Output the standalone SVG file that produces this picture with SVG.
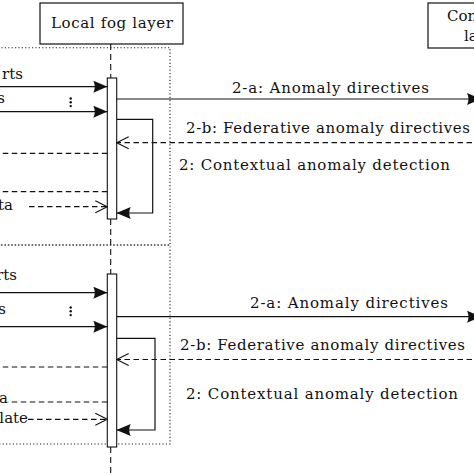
<svg xmlns="http://www.w3.org/2000/svg" width="474" height="474" viewBox="0 0 474 474">
<style>
.box{fill:#fff;stroke:#111;stroke-width:1.2}
.act{fill:#fff;stroke:#111;stroke-width:1.1}
.frame{fill:none;stroke:#222;stroke-width:1.1;stroke-dasharray:1.2 2.2}
.life{fill:none;stroke:#111;stroke-width:1.1;stroke-dasharray:6 4}
.solid{fill:none;stroke:#111;stroke-width:1.2}
.dash{fill:none;stroke:#111;stroke-width:1.2;stroke-dasharray:5.5 3.5}
.t{font-family:"DejaVu Serif",serif;font-size:15px;fill:#111}
</style>
<defs>
<marker id="fa" viewBox="0 0 14 12" refX="14" refY="6" markerWidth="14" markerHeight="12" orient="auto" markerUnits="userSpaceOnUse"><path d="M0,0 L14,6 L0,12 Q3,6 0,0 z" fill="#111"/></marker>
<marker id="oa" viewBox="0 0 14 14" refX="13" refY="7" markerWidth="14" markerHeight="14" orient="auto" markerUnits="userSpaceOnUse"><path d="M1,1 L13,7 L1,13" fill="none" stroke="#111" stroke-width="1.1"/></marker>
</defs>
<rect width="474" height="474" fill="#fff"/>
<g id="frames">
<rect class="frame" x="-2" y="47.7" width="172" height="197.3"/>
<rect class="frame" x="-2" y="245" width="172" height="199"/>
</g>
<g id="lifelines">
<line class="life" x1="110.7" y1="44" x2="110.7" y2="78"/>
<line class="life" x1="110.7" y1="219" x2="110.7" y2="274"/>
<line class="life" x1="110.7" y1="447" x2="110.7" y2="474"/>
</g>
<g id="local-fog-layer">
<rect class="box" x="40" y="3" width="143" height="41"/>
<text class="t" x="112" y="28" text-anchor="middle" textLength="122">Local fog layer</text>
</g>
<g id="contextual-layer">
<rect class="box" x="428" y="3" width="108" height="45"/>
<text class="t" x="447" y="21">Con</text>
<text class="t" x="464" y="41">la</text>
</g>
<g id="activation-1"><rect class="act" x="107.3" y="78" width="9.4" height="141"/></g>
<g id="activation-2"><rect class="act" x="107.3" y="274" width="9.4" height="173"/></g>
<g id="connectors">
<line class="solid" x1="-2" y1="86.7" x2="107.3" y2="86.7" marker-end="url(#fa)"/>
<line class="solid" x1="-2" y1="111.7" x2="107.3" y2="111.7" marker-end="url(#fa)"/>
<line class="solid" x1="116.7" y1="99" x2="481" y2="99" marker-end="url(#fa)"/>
<path class="solid" d="M116.7,119.3 H152.7 V213 H116.7" marker-end="url(#fa)"/>
<line class="dash" x1="481" y1="142.7" x2="116.7" y2="142.7" marker-end="url(#oa)"/>
<line class="dash" x1="107.3" y1="153.3" x2="0" y2="153.3"/>
<line class="dash" x1="107.3" y1="191.7" x2="0" y2="191.7"/>
<line class="dash" x1="29" y1="206.7" x2="107.3" y2="206.7" marker-end="url(#oa)"/>
<line class="solid" x1="-2" y1="292.7" x2="107.3" y2="292.7" marker-end="url(#fa)"/>
<line class="solid" x1="-2" y1="326.7" x2="107.3" y2="326.7" marker-end="url(#fa)"/>
<line class="solid" x1="116.7" y1="316.7" x2="481" y2="316.7" marker-end="url(#fa)"/>
<path class="solid" d="M116.7,338.3 H155 V430 H116.7" marker-end="url(#fa)"/>
<line class="dash" x1="481" y1="359.5" x2="116.7" y2="359.5" marker-end="url(#oa)"/>
<line class="dash" x1="107.3" y1="367" x2="0" y2="367"/>
<line class="dash" x1="107.3" y1="402" x2="8" y2="402"/>
<line class="dash" x1="28" y1="419.3" x2="107.3" y2="419.3" marker-end="url(#oa)"/>
</g>
<g id="labels">
<text class="t" x="23" y="79" text-anchor="end">rts</text>
<text class="t" x="5" y="103" text-anchor="end">s</text>
<text class="t" x="13" y="210" text-anchor="end">ta</text>
<text class="t" x="232" y="93" textLength="197">2-a: Anomaly directives</text>
<text class="t" x="186" y="133" textLength="284">2-b: Federative anomaly directives</text>
<text class="t" x="179" y="170" textLength="271">2: Contextual anomaly detection</text>
<text class="t" x="17" y="280" text-anchor="end">rts</text>
<text class="t" x="6" y="314" text-anchor="end">s</text>
<text class="t" x="8" y="403" text-anchor="end">a</text>
<text class="t" x="28" y="423" text-anchor="end">late</text>
<text class="t" x="250" y="308" textLength="198">2-a: Anomaly directives</text>
<text class="t" x="180" y="350" textLength="285">2-b: Federative anomaly directives</text>
<text class="t" x="186" y="399" textLength="272">2: Contextual anomaly detection</text>
</g>
<g id="ellipses" fill="#111">
<circle cx="70.7" cy="98.5" r="1.2"/><circle cx="70.7" cy="102.3" r="1.2"/><circle cx="70.7" cy="106.1" r="1.2"/>
<circle cx="70.7" cy="307.5" r="1.2"/><circle cx="70.7" cy="311.3" r="1.2"/><circle cx="70.7" cy="315.1" r="1.2"/>
</g>
</svg>
